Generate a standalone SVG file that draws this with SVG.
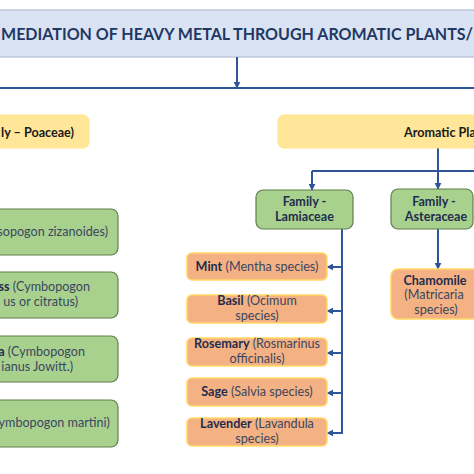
<svg xmlns="http://www.w3.org/2000/svg" width="474" height="474" viewBox="0 0 474 474">
<style>
  .t { font-family: Lato, "Liberation Sans", Arial, sans-serif; font-size: 12.6px; fill: #3a4660; }
  .b { font-weight: bold; fill: #1f2d4d; }
  .c { text-anchor: middle; }
  .e { text-anchor: end; }
  .title { fill: #dae3f3; stroke: #b4c0d8; stroke-width: 1.2; }
  .yel { fill: #ffe699; stroke: #ffe38a; stroke-width: 1; }
  .grn { fill: #a9d18e; stroke: #5f7f4c; stroke-width: 1.2; }
  .org { fill: #f4b183; stroke: #ffd966; stroke-width: 1.6; }
  .ln { fill: none; stroke: #2f5597; stroke-width: 2; }
</style>
<defs>
  <marker id="ah" viewBox="0 0 10 10" refX="9" refY="5" markerWidth="7" markerHeight="7" markerUnits="userSpaceOnUse" orient="auto">
    <path d="M0,0 L10,5 L0,10 Z" fill="#2f5597"/>
  </marker>
</defs>
<rect width="474" height="474" fill="#ffffff"/>

<g id="title">
  <rect class="title" x="-10" y="10" width="494" height="47"/>
  <text x="1" y="40" textLength="472" lengthAdjust="spacingAndGlyphs" style="font-family: Lato, 'Liberation Sans', sans-serif; font-size:17px; font-weight:bold; fill:#1f3864;">MEDIATION OF HEAVY METAL THROUGH AROMATIC PLANTS/</text>
</g>

<g id="connectors">
  <path class="ln" d="M237 57 V88" marker-end="url(#ah)"/>
  <path class="ln" d="M0 88 H474"/>
  <path class="ln" d="M438 148 V189" marker-end="url(#ah)"/>
  <path class="ln" d="M312 171 H474"/>
  <path class="ln" d="M312 171 V190" marker-end="url(#ah)"/>
  <path class="ln" d="M438 229 V269" marker-end="url(#ah)"/>
  <path class="ln" d="M342 229 V434"/>
  <path class="ln" d="M342 267 H327" marker-end="url(#ah)"/>
  <path class="ln" d="M342 311 H327" marker-end="url(#ah)"/>
  <path class="ln" d="M342 353 H327" marker-end="url(#ah)"/>
  <path class="ln" d="M342 393 H327" marker-end="url(#ah)"/>
  <path class="ln" d="M342 433 H327" marker-end="url(#ah)"/>
</g>

<g id="poaceae">
  <rect class="yel" x="-10" y="115" width="99" height="33" rx="6"/>
  <text class="t b e" x="74" y="137" style="fill:#1a1a1a">ly – Poaceae)</text>
</g>

<g id="aromatic">
  <rect class="yel" x="278" y="115" width="210" height="33" rx="6"/>
  <text class="t b" x="404" y="137" style="fill:#1a1a1a">Aromatic Pla</text>
</g>

<g id="vetiver">
  <rect class="grn" x="-10" y="209" width="128" height="46" rx="7"/>
  <text class="t e" x="108" y="236">sopogon zizanoides)</text>
</g>
<g id="lemongrass">
  <rect class="grn" x="-10" y="272" width="128" height="46" rx="7"/>
  <text class="t e" x="90" y="291"><tspan class="b">ss</tspan> (Cymbopogon</text>
  <text class="t e" x="78" y="306">us or citratus)</text>
</g>
<g id="citronella">
  <rect class="grn" x="-10" y="336" width="128" height="46" rx="7"/>
  <text class="t e" x="85" y="356"><tspan class="b">a</tspan> (Cymbopogon</text>
  <text class="t e" x="73" y="371">ianus Jowitt.)</text>
</g>
<g id="palmarosa">
  <rect class="grn" x="-10" y="400" width="128" height="47" rx="7"/>
  <text class="t e" x="110" y="427">ymbopogon martini)</text>
</g>

<g id="lamiaceae">
  <rect class="grn" x="256" y="190" width="97" height="39" rx="7"/>
  <text class="t b c" x="304.5" y="206">Family -</text>
  <text class="t b c" x="304.5" y="221">Lamiaceae</text>
</g>
<g id="asteraceae">
  <rect class="grn" x="391" y="189" width="82" height="40" rx="7"/>
  <text class="t b c" x="434" y="206">Family -</text>
  <text class="t b c" x="436" y="221">Asteraceae</text>
</g>

<g id="chamomile">
  <rect class="org" x="391" y="269" width="95" height="50" rx="7"/>
  <text class="t b c" x="435" y="284.5">Chamomile</text>
  <text class="t c" x="434" y="299">(Matricaria</text>
  <text class="t c" x="436" y="313.5">species)</text>
</g>

<g id="mint">
  <rect class="org" x="187" y="253" width="140" height="27" rx="5"/>
  <text class="t c" x="257" y="271"><tspan class="b">Mint</tspan> (Mentha species)</text>
</g>
<g id="basil">
  <rect class="org" x="187" y="295" width="140" height="28" rx="5"/>
  <text class="t c" x="257" y="305"><tspan class="b">Basil</tspan> (Ocimum</text>
  <text class="t c" x="257" y="319.5">species)</text>
</g>
<g id="rosemary">
  <rect class="org" x="187" y="338" width="140" height="28" rx="5"/>
  <text class="t c" x="257" y="348"><tspan class="b">Rosemary</tspan> (Rosmarinus</text>
  <text class="t c" x="257" y="362.5">officinalis)</text>
</g>
<g id="sage">
  <rect class="org" x="187" y="378" width="140" height="28" rx="5"/>
  <text class="t c" x="257" y="396"><tspan class="b">Sage</tspan> (Salvia species)</text>
</g>
<g id="lavender">
  <rect class="org" x="187" y="418" width="140" height="28" rx="5"/>
  <text class="t c" x="257" y="428"><tspan class="b">Lavender</tspan> (Lavandula</text>
  <text class="t c" x="257" y="442.5">species)</text>
</g>
</svg>
